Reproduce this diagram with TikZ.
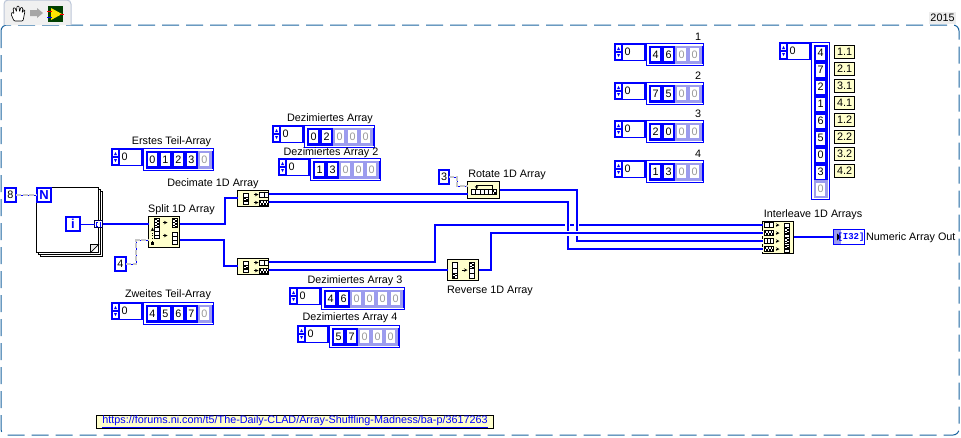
\documentclass[tikz,border=0pt]{standalone}
\usepackage{fontspec}
\setmainfont{Liberation Sans}
\setmonofont{Liberation Mono}
\usepackage{xcolor}
\usepackage{tikz}
\usetikzlibrary{arrows, shapes}

\definecolor{LVblue}{HTML}{0000FF}
\definecolor{LVoff}{HTML}{9C9CEE}
\definecolor{LVyellow}{HTML}{FFFFCC}
\definecolor{LVframe}{HTML}{1A64A0}
\definecolor{LVtab}{HTML}{F0F0F0}
\definecolor{LVtabline}{HTML}{BCC6D8}

% spinner and array control, index box at #2,#3
\newcommand{\lvarr}[6]{%
  \node [indexbox] (#1idx) at (#2+.75,#3+.75) {};
  \fill [LVblue] (#2,#3) rectangle ++(9,18);
  \fill [white] (#2+2,#3+2) rectangle ++(5,6);
  \fill [white] (#2+2,#3+10) rectangle ++(5,6);
  \fill [LVblue] (#2+3,#3+7) -- ++(3,0) -- ++(-1.5,-3) -- cycle;
  \fill [LVblue] (#2+3,#3+11) -- ++(3,0) -- ++(-1.5,3) -- cycle;
  \node [idxval] (#1val) at (#2+10.5,#3+9) {0};
  \node [arrframe, minimum width=13*#4+5] (#1) at (#2+32.5,#3+.5) {};
  \node [arrinner, minimum width=13*#4+2] (#1in) at (#2+34.5,#3+2.5) {};
  \foreach \val [count=\k] in {#6} {
    \ifnum\k>#5 \def\cellstyle{celloff}\else\def\cellstyle{cellon}\fi
    \node [style=\cellstyle] (#1c\k) at (#2+41.5+13*\k-13,#3+11.5) {\val};
  }
}
% small icon parts
\newcommand{\chkV}[4]{%
  \draw [icon, fill=white] (#1,#2) rectangle ++(#3,#4);
  \draw [line width=#3pt/2, dash pattern=on 1.5pt off 1.5pt] (#1+#3/4,#2) -- ++(0,#4);
  \draw [line width=#3pt/2, dash pattern=on 1.5pt off 1.5pt, dash phase=1.5pt] (#1+#3*3/4,#2) -- ++(0,#4);
}
\newcommand{\chkH}[4]{%
  \draw [icon, fill=white] (#1,#2) rectangle ++(#3,#4);
  \draw [line width=#4pt/2, dash pattern=on 1.5pt off 1.5pt] (#1,#2+#4/4) -- ++(#3,0);
  \draw [line width=#4pt/2, dash pattern=on 1.5pt off 1.5pt, dash phase=1.5pt] (#1,#2+#4*3/4) -- ++(#3,0);
}
\newcommand{\barV}[5]{%
  \draw [icon, fill=white] (#1,#2) rectangle ++(#3,#4);
  \foreach \n in {1,...,#5} \draw [icon] (#1,#2+#4*\n/#5) -- ++(#3,0);
}
\newcommand{\barH}[5]{%
  \draw [icon, fill=white] (#1,#2) rectangle ++(#3,#4);
  \foreach \n in {1,...,#5} \draw [icon] (#1+#3*\n/#5,#2) -- ++(0,#4);
}
\newcommand{\tinyarr}[2]{\draw [icon, ->, >=stealth] (#1,#2) -- ++(5,0);}
\newcommand{\deciicon}[2]{%
  \barV{#1+6}{#2+3}{4.5}{11}{3}
  \chkV{#1+6}{#2+6.5}{4.5}{3.5}
  \tinyarr{#1+16}{#2+4}
  \tinyarr{#1+16}{#2+12}
  \barH{#1+22}{#2+2}{9}{4.5}{2}
  \chkH{#1+22}{#2+10}{9}{4.5}
}

\begin{document}
\begin{tikzpicture}[x=1pt, y=-1pt, auto,
  every node/.style={font=\fontsize{10.8}{12}\selectfont, outer sep=0pt},
  %
  lbl/.style ={inner sep=0pt},
  %
  indexbox/.style ={rectangle, draw=LVblue, line width=1.5pt, fill=white, anchor=north west,
    minimum width=30, minimum height=16.5, inner sep=0pt},
  %
  idxval/.style ={anchor=west, inner sep=0pt},
  %
  arrframe/.style ={rectangle, draw=LVblue, line width=1pt, fill=white, anchor=north west,
    minimum height=22, inner sep=0pt},
  %
  arrinner/.style ={rectangle, fill=LVblue, anchor=north west, minimum height=18, inner sep=0pt},
  %
  cellon/.style ={rectangle, fill=white, minimum width=9, minimum height=13, inner sep=0pt},
  %
  celloff/.style ={rectangle, fill=white, draw=LVoff, line width=2.5pt, text=black!40,
    minimum width=11.5, minimum height=15.5, inner sep=0pt},
  %
  constant/.style ={rectangle, draw=LVblue, line width=2pt, fill=white, anchor=north west,
    inner sep=0pt},
  %
  funcbox/.style ={rectangle, draw=black, line width=.8pt, fill=LVyellow, anchor=north west,
    inner sep=0pt},
  %
  simple/.style ={rectangle, draw=black, line width=.7pt, fill=LVyellow, anchor=north west,
    minimum width=20, minimum height=13, inner sep=0pt},
  %
  icon/.style ={draw=black, line width=.6pt},
  %
  wire/.style ={draw=LVblue, line width=2pt},
  %
  wirex/.style ={wire, preaction={draw=white, line width=5pt}},
  %
  bluewire/.style ={draw=LVblue, line width=1pt},
  %
  thinwire/.style ={bluewire, postaction={draw=black!22, line width=1.5pt, dash pattern=on 5pt off 1.5pt}},
  %
  loopframe/.style ={draw=black, line width=1pt, fill=white}
  ]

  \useasboundingbox (0,0) rectangle (961,437);

  % diagram border and tabs
  \begin{scope}
    \draw [LVframe, line width=1pt, dash pattern=on 17pt off 7pt, rounded corners=6pt] (1,25) rectangle (959,435);
    \draw [LVtabline, line width=1pt, fill=LVtab, rounded corners=4pt] (4,25) -- (4,0) -- (71,0) -- (71,25);
    \node [rectangle, fill=black!7, minimum width=27, minimum height=12, inner sep=0pt] (yeartag) at (942.5,18) {2015};
    % hand
    \draw [fill=white, line width=.6pt, rounded corners=1pt] (14,21) -- (11,14) -- (12,12) -- (14,14) -- (13,8) -- (15,7.5) -- (16.5,12)
      -- (17,6) -- (19,6) -- (19.5,12) -- (21,7) -- (23,8) -- (22,13) -- (24,10) -- (25,11) -- (23,21) -- cycle;
    % arrow
    \fill [black!35] (30,10) -- (37,10) -- (37,8) -- (43,13) -- (37,18) -- (37,16) -- (30,16) -- cycle;
    % vi icon
    \fill [black!75!green] (48,6) rectangle (63,22);
    \fill [yellow!90!orange] (51,8) -- (62,14) -- (51,20) -- cycle;
    \draw [red, line width=.6pt] (47,11) -- (52,11);
    \draw [blue, line width=.6pt] (47,17) -- (52,17);
    \draw [red, line width=.6pt] (60,14) -- (64,14);
  \end{scope}

  %%%%%%%%%%%%%%%%%%%%%%%%%%%%%%%
  % for loop
  \begin{scope}
    \draw [loopframe] (40.5,191.5) rectangle (102.5,256.5);
    \draw [loopframe] (38.5,189.5) rectangle (100.5,254.5);
    \node [rectangle, draw=black, line width=1pt, fill=white, anchor=north west, minimum width=62,
      minimum height=65, inner sep=0pt] (forloop) at (36.5,187.5) {};
    \draw [black, line width=.7pt, fill=black!8] (90.5,252.5) -- (90.5,244.5) -- (98.5,244.5) -- cycle;
    \node [constant, minimum width=11, minimum height=14] (constN) at (5,188) {8};
    \node [constant, minimum width=14, minimum height=14, text=LVblue, font=\bfseries\fontsize{13}{13}\selectfont] (nbox) at (37,188) {N};
    \node [constant, minimum width=14, minimum height=14, text=LVblue, font=\bfseries\fontsize{13}{13}\selectfont] (ibox) at (66,217) {i};
    \node [rectangle, draw=black!70!blue, line width=1pt, fill=white, anchor=north west, minimum width=8,
      minimum height=7, inner sep=0pt] (tunnel) at (94.5,220.5) {};
    \draw [LVblue, line width=.8pt] (97.5,222) -- (96.5,222) -- (96.5,226) -- (97.5,226);
    \draw [LVblue, line width=.8pt] (99.5,222) -- (100.5,222) -- (100.5,226) -- (99.5,226);
  \end{scope}

  %%%%%%%%%%%%%%%%%%%%%%%%%%%%%%%
  % front panel terminals
  \begin{scope}
    \lvarr{erstes}{111}{148}{5}{4}{0,1,2,3,0}
    \lvarr{zweites}{111}{302}{5}{4}{4,5,6,7,0}
    \lvarr{dezA}{272}{125}{5}{2}{0,2,0,0,0}
    \lvarr{dezB}{278}{158}{5}{2}{1,3,0,0,0}
    \lvarr{dezC}{289}{287}{6}{2}{4,6,0,0,0,0}
    \lvarr{dezD}{297}{325}{5}{2}{5,7,0,0,0}
    \lvarr{outA}{614}{43}{4}{2}{4,6,0,0}
    \lvarr{outB}{614}{82}{4}{2}{7,5,0,0}
    \lvarr{outC}{614}{120}{4}{2}{2,0,0,0}
    \lvarr{outD}{614}{160}{4}{2}{1,3,0,0}
    %
    \node [lbl] (lblerstes) at (171.5,142) {Erstes Teil-Array};
    \node [lbl] (lblzweites) at (168,295) {Zweites Teil-Array};
    \node [lbl] (lbldezA) at (330,119) {Dezimiertes Array};
    \node [lbl] (lbldezB) at (331,153) {Dezimiertes Array 2};
    \node [lbl] (lbldezC) at (355,281) {Dezimiertes Array 3};
    \node [lbl] (lbldezD) at (350,318) {Dezimiertes Array 4};
    \node [lbl] (lbloutA) at (698,37) {1};
    \node [lbl] (lbloutB) at (698,76) {2};
    \node [lbl] (lbloutC) at (698,114) {3};
    \node [lbl] (lbloutD) at (698,154) {4};
  \end{scope}

  %%%%%%%%%%%%%%%%%%%%%%%%%%%%%%%
  % the long column
  \begin{scope}
    \node [indexbox] (colidx) at (779.75,42.75) {};
    \fill [LVblue] (779,42) rectangle ++(9,18);
    \fill [white] (781,44) rectangle ++(5,6);
    \fill [white] (781,52) rectangle ++(5,6);
    \fill [LVblue] (782,49) -- ++(3,0) -- ++(-1.5,-3) -- cycle;
    \fill [LVblue] (782,53) -- ++(3,0) -- ++(-1.5,3) -- cycle;
    \node [idxval] (colval) at (789.5,51) {0};
    \node [arrframe, minimum width=18, minimum height=157] (colarr) at (811.5,42.5) {};
    \node [arrinner, minimum width=14, minimum height=153] (colin) at (813.5,44.5) {};
    \foreach \val [count=\k] in {4,7,2,1,6,5,0,3} {
      \node [cellon] (colc\k) at (820.5,53+17*\k-17) {\val};
    }
    \node [celloff] (colc9) at (820.5,189) {0};
    %
    \foreach \tag [count=\k] in {1.1,2.1,3.1,4.1,1.2,2.2,3.2,4.2} {
      \node [simple] (tag\k) at (834.5,45.5+17*\k-17) {\tag};
    }
  \end{scope}

  %%%%%%%%%%%%%%%%%%%%%%%%%%%%%%%
  % functions
  \begin{scope}
    \node [funcbox, minimum width=31, minimum height=31] (split) at (148.5,216.5) {};
    \node [funcbox, minimum width=31, minimum height=16] (decA) at (237.5,190.5) {};
    \node [funcbox, minimum width=31, minimum height=16] (decB) at (237.5,258.5) {};
    \node [funcbox, minimum width=32, minimum height=17] (rotate) at (467.5,181.5) {};
    \node [funcbox, minimum width=31, minimum height=21] (reverse) at (447.5,259.5) {};
    \node [funcbox, minimum width=31, minimum height=32] (inter) at (762.5,221.5) {};
    \node [constant, minimum width=11, minimum height=14] (constsplit) at (115,257) {4};
    \node [constant, minimum width=10, minimum height=14] (constrot) at (439,170) {3};
    \node [rectangle, draw=LVblue, line width=1pt, fill=white, anchor=north west, minimum width=31,
      minimum height=15, inner sep=0pt] (outarr) at (833.5,229.5) {};
    \fill [LVoff] (834,230) rectangle (841,244);
    \fill [black] (837,233.5) -- (841,237) -- (837,240.5) -- cycle;
    \node [inner sep=0pt, text=LVblue, font=\ttfamily\bfseries\fontsize{9}{9}\selectfont] (outtxt) at (851,237) {[I32]};
    %
    \node [lbl] (lblsplit) at (181.5,210) {Split 1D Array};
    \node [lbl] (lbldec) at (213,184) {Decimate 1D Array};
    \node [lbl] (lblrot) at (507,175) {Rotate 1D Array};
    \node [lbl] (lblrev) at (490,291) {Reverse 1D Array};
    \node [lbl] (lblint) at (813,215) {Interleave 1D Arrays};
    \node [lbl, anchor=west] (lblout) at (866,238) {Numeric Array Out};
    %
    \node [rectangle, draw=black, line width=.8pt, fill=LVyellow, anchor=north west, minimum width=397,
      minimum height=13, inner sep=0pt, text=blue] (urlbox) at (96.5,415.5) {\underline{https://forums.ni.com/t5/The-Daily-CLAD/Array-Shuffling-Madness/ba-p/3617263}};
  \end{scope}

  %%%%%%%%%%%%%%%%%%%%%%%%%%%%%%%
  % icons on the functions
  \begin{scope}[shift={(.5,.5)}]
    \chkV{154}{218}{5}{9}
    \barV{154}{227}{5}{11}{3}
    \chkV{172}{218}{5}{9}
    \barV{172}{232}{5}{12}{3}
    \tinyarr{162}{222}
    \tinyarr{162}{235}
    \draw [black, line width=.7pt, dotted, ->, >=stealth] (152,241) -- (152,227);
    \fill [black] (150,241) rectangle ++(3.5,3);
    %
    \deciicon{237}{190}
    \deciicon{237}{258}
    %
    \barH{471}{189}{25}{5}{6}
    \chkH{492}{189}{4}{5}
    \draw [icon, ->, >=stealth] (492,189) -- (492,185) -- (476,185) -- (476,189);
    %
    \barV{452}{262}{5}{16}{3}
    \chkV{452}{272.5}{5}{5.5}
    \barV{469}{262}{5}{16}{3}
    \chkV{469}{262}{5}{5.5}
    \draw [icon, ->, >=stealth] (461,269.5) -- ++(6,0);
    %
    \barH{764}{222}{9}{5}{2}
    \chkH{764}{230}{9}{5}
    \barH{764}{238}{9}{5}{3}
    \chkH{764}{246}{9}{5}
    \foreach \yy in {224.5,232.5,240.5,248.5} \draw [icon, ->, >=stealth] (775,\yy) -- ++(4,0);
    \barV{784}{223}{5}{29}{8}
    \chkV{784}{227}{5}{6}
    \chkV{784}{237}{5}{6}
    \chkV{784}{245}{5}{3}
  \end{scope}

  %%%%%%%%%%%%%%%%%%%%%%%%%%%%%%%
  % wires
  \begin{scope}
    \draw [thinwire] (constN) -- (nbox);
    \draw [bluewire] (ibox) -- (tunnel);
    \draw [wire] (tunnel) -- ([yshift=8pt]split.west);
    \draw [thinwire] (constsplit.east) -- ++(10,0) |- ([yshift=-8pt]split.west);
    \draw [wire] ([yshift=8pt]split.east) -- ++(45,0) |- ([yshift=.5pt]decA.west);
    \draw [wire] ([yshift=-8pt]split.east) -- ++(44,0) |- ([yshift=.5pt]decB.west);
    \draw [thinwire] (constrot.east) -- ++(8,0) |- ([yshift=4pt]rotate.west);
    \draw [wire] ([yshift=4.5pt]decA.east) -- ([yshift=-4pt]rotate.west);
    \draw [wire] ([yshift=-3.5pt]decB.east) -- (reverse.west);
    \draw [wire] ([yshift=4.5pt]decB.east) -- ++(166,0) |- ([yshift=12.5pt]inter.west);
    \draw [wirex] ([yshift=-3.5pt]decA.east) -- ++(299,0) |- ([yshift=-11.5pt]inter.west);
    \draw [wirex] (rotate.east) -- ++(77,0) |- ([yshift=-3.5pt]inter.west);
    \draw [wirex] (reverse.east) -- ++(12,0) |- ([yshift=4.5pt]inter.west);
    \draw [wire] ([yshift=.5pt]inter.east) -- (outarr);
  \end{scope}

\end{tikzpicture}
\end{document}
